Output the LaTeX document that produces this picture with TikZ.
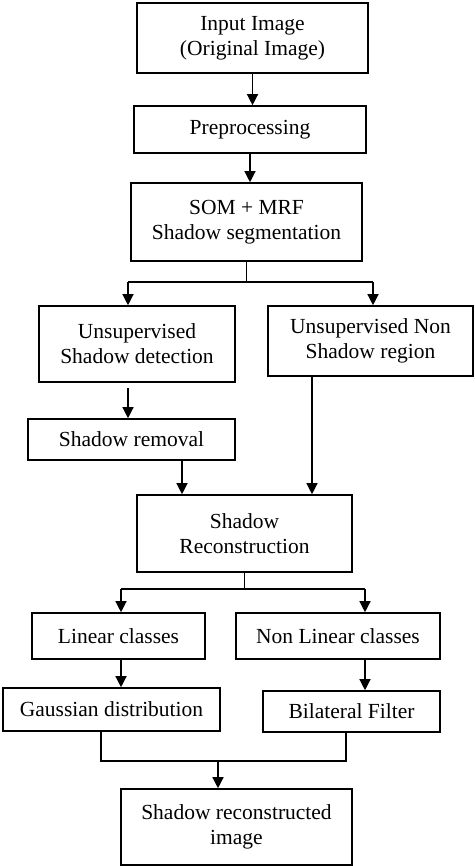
\documentclass[tikz,border=0pt]{standalone}
\usepackage{fontspec}
\setmainfont{Liberation Serif}
\usepackage{tikz}
\usetikzlibrary{arrows.meta, positioning}

\begin{document}
\begin{tikzpicture}[x=1pt, y=-1pt,
  box/.style={draw, line width=1.6pt, align=center, inner sep=2pt, font=\fontsize{21.5}{25}\selectfont},
  arr/.style={-{Triangle[length=11pt, width=11pt]}, line width=1.3pt},
  lin/.style={line width=1.3pt}]
  \useasboundingbox (0,0) rectangle (474,866);

  % Top chain
  \node[box, minimum width=231pt, minimum height=70pt] (inp) at (252.5, 38) {Input Image\\(Original Image)};
  \node[box, minimum width=232pt, minimum height=47pt] (pre) at (250, 129.5) {Preprocessing};
  \node[box, minimum width=231pt, minimum height=78pt] (som) at (246.5, 222) {SOM + MRF\\Shadow segmentation};

  % Detection branches
  \node[box, minimum width=196pt, minimum height=76pt] (det) at (137, 344) {Unsupervised\\Shadow detection};
  \node[box, minimum width=205pt, minimum height=70pt] (non) at (370.5, 341) {Unsupervised Non\\Shadow region};
  \node[box, minimum width=207pt, minimum height=41pt] (rem) at (131.5, 439.5) {Shadow removal};
  \node[box, minimum width=215pt, minimum height=77pt] (rec) at (244.5, 533.5) {Shadow\\Reconstruction};

  % Classes
  \node[box, minimum width=173pt, minimum height=46pt] (lcl) at (118.5, 636) {Linear classes};
  \node[box, minimum width=204pt, minimum height=46pt] (ncl) at (338, 636) {Non Linear classes};
  \node[box, minimum width=217pt, minimum height=43pt] (gau) at (111.5, 709.5) {Gaussian distribution};
  \node[box, minimum width=177pt, minimum height=41pt] (bil) at (351.5, 711.5) {Bilateral Filter};
  \node[box, minimum width=231pt, minimum height=76pt] (out) at (236.5, 827) {Shadow reconstructed\\image};

  % Junctions
  \coordinate (sL) at (128, 282);
  \coordinate (sR) at (373, 282);
  \coordinate (cL) at (121, 589);
  \coordinate (cR) at (365, 589);
  \coordinate (mL) at (101, 761);
  \coordinate (mR) at (346, 761);
  \coordinate (mM) at (218, 761);

  % Arrows
  \draw[arr] (inp.south) -- (inp.south |- pre.north);
  \draw[arr] (pre.south) -- (pre.south |- som.north);
  \draw[lin] (som.south) -- (som.south |- sL);
  \draw[lin] (sL) -- (sR);
  \draw[arr] (sL) -- (sL |- det.north);
  \draw[arr] (sR) -- (sR |- non.north);
  \draw[arr] ([yshift=-5pt]sL |- det.south) -- (sL |- rem.north);
  \draw[arr] ([xshift=50.5pt]rem.south) -- ([xshift=50.5pt]rem.south |- rec.north);
  \draw[arr] ([xshift=-58.5pt]non.south) -- ([xshift=-58.5pt]non.south |- rec.north);
  \draw[lin] (rec.south) -- (rec.south |- cL);
  \draw[lin] (cL) -- (cR);
  \draw[arr] (cL) -- (cL |- lcl.north);
  \draw[arr] (cR) -- (cR |- ncl.north);
  \draw[arr] (cL |- lcl.south) -- (cL |- gau.north);
  \draw[arr] (cR |- ncl.south) -- (cR |- bil.north);
  \draw[lin] (mL |- gau.south) -- (mL) -- (mR) -- (mR |- bil.south);
  \draw[arr] (mM) -- (mM |- out.north);
\end{tikzpicture}
\end{document}
